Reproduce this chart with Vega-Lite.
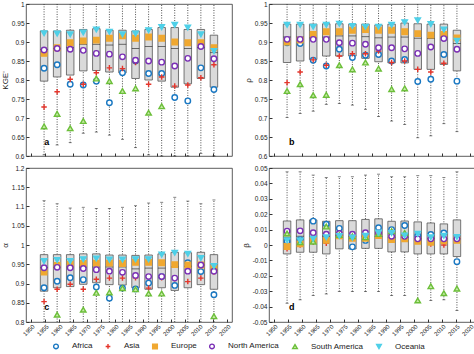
{
  "$schema": "https://vega.github.io/schema/vega-lite/v6.json",
  "padding": {"left": 0, "top": 0, "right": 4, "bottom": 2},
  "background": "white",
  "config": {
    "font": "Liberation Sans",
    "view": {"stroke": "#333", "strokeWidth": 0.8},
    "axis": {"labelFontSize": 6.5, "labelColor": "#222", "tickColor": "#333", "tickSize": -3, "tickCount": 30, "labelPadding": 5, "labelOverlap": false, "labelFlush": false, "labelBound": false, "domain": false, "grid": false, "titleFontSize": 8, "titleFontWeight": "normal", "titleColor": "#222", "titlePadding": 2},
    "legend": {"labelFontSize": 8, "labelColor": "#222", "symbolSize": 22, "symbolStrokeWidth": 1.4, "labelOffset": 12, "columnPadding": 9, "padding": 0, "offset": 4, "layout": {"bottom": {"anchor": "middle"}}}
  },
  "spacing": {"row": 4, "column": 8},
  "columns": 2,
  "datasets": {
    "boxes": [
      {"p":"a","box":1,"lo":0.603,"q1":0.797,"med":0.880,"q3":0.929,"hi":1.0},
      {"p":"a","box":2,"lo":0.629,"q1":0.808,"med":0.883,"q3":0.929,"hi":1.0},
      {"p":"a","box":3,"lo":0.635,"q1":0.813,"med":0.885,"q3":0.931,"hi":1.0},
      {"p":"a","box":4,"lo":0.660,"q1":0.824,"med":0.894,"q3":0.933,"hi":1.0},
      {"p":"a","box":5,"lo":0.663,"q1":0.825,"med":0.894,"q3":0.935,"hi":1.0},
      {"p":"a","box":6,"lo":0.655,"q1":0.821,"med":0.892,"q3":0.931,"hi":1.0},
      {"p":"a","box":7,"lo":0.644,"q1":0.819,"med":0.894,"q3":0.931,"hi":1.0},
      {"p":"a","box":8,"lo":0.622,"q1":0.804,"med":0.883,"q3":0.929,"hi":1.0},
      {"p":"a","box":9,"lo":0.603,"q1":0.800,"med":0.888,"q3":0.933,"hi":1.0},
      {"p":"a","box":10,"lo":0.600,"q1":0.797,"med":0.888,"q3":0.938,"hi":1.0},
      {"p":"a","box":11,"lo":0.600,"q1":0.781,"med":0.883,"q3":0.938,"hi":1.0},
      {"p":"a","box":12,"lo":0.600,"q1":0.790,"med":0.883,"q3":0.933,"hi":1.0},
      {"p":"a","box":13,"lo":0.607,"q1":0.804,"med":0.885,"q3":0.933,"hi":1.0},
      {"p":"a","box":14,"lo":0.600,"q1":0.781,"med":0.872,"q3":0.918,"hi":1.0},
      {"p":"b","box":1,"lo":0.701,"q1":0.846,"med":0.913,"q3":0.947,"hi":1.0},
      {"p":"b","box":2,"lo":0.712,"q1":0.850,"med":0.913,"q3":0.947,"hi":1.0},
      {"p":"b","box":3,"lo":0.718,"q1":0.854,"med":0.911,"q3":0.947,"hi":1.0},
      {"p":"b","box":4,"lo":0.736,"q1":0.863,"med":0.913,"q3":0.948,"hi":1.0},
      {"p":"b","box":5,"lo":0.738,"q1":0.863,"med":0.916,"q3":0.948,"hi":1.0},
      {"p":"b","box":6,"lo":0.734,"q1":0.863,"med":0.916,"q3":0.947,"hi":1.0},
      {"p":"b","box":7,"lo":0.723,"q1":0.857,"med":0.914,"q3":0.947,"hi":1.0},
      {"p":"b","box":8,"lo":0.704,"q1":0.848,"med":0.911,"q3":0.945,"hi":1.0},
      {"p":"b","box":9,"lo":0.692,"q1":0.845,"med":0.913,"q3":0.947,"hi":1.0},
      {"p":"b","box":10,"lo":0.683,"q1":0.845,"med":0.913,"q3":0.950,"hi":1.0},
      {"p":"b","box":11,"lo":0.648,"q1":0.828,"med":0.910,"q3":0.948,"hi":1.0},
      {"p":"b","box":12,"lo":0.653,"q1":0.828,"med":0.909,"q3":0.947,"hi":1.0},
      {"p":"b","box":13,"lo":0.685,"q1":0.841,"med":0.913,"q3":0.947,"hi":1.0},
      {"p":"b","box":14,"lo":0.664,"q1":0.824,"med":0.896,"q3":0.931,"hi":1.0},
      {"p":"c","box":1,"lo":0.8,"q1":0.880,"med":0.941,"q3":0.975,"hi":1.115},
      {"p":"c","box":2,"lo":0.8,"q1":0.889,"med":0.942,"q3":0.975,"hi":1.107},
      {"p":"c","box":3,"lo":0.8,"q1":0.892,"med":0.943,"q3":0.975,"hi":1.096},
      {"p":"c","box":4,"lo":0.8,"q1":0.898,"med":0.943,"q3":0.977,"hi":1.098},
      {"p":"c","box":5,"lo":0.8,"q1":0.902,"med":0.943,"q3":0.977,"hi":1.095},
      {"p":"c","box":6,"lo":0.8,"q1":0.897,"med":0.943,"q3":0.974,"hi":1.095},
      {"p":"c","box":7,"lo":0.8,"q1":0.896,"med":0.943,"q3":0.974,"hi":1.098},
      {"p":"c","box":8,"lo":0.8,"q1":0.889,"med":0.938,"q3":0.973,"hi":1.102},
      {"p":"c","box":9,"lo":0.8,"q1":0.885,"med":0.940,"q3":0.974,"hi":1.109},
      {"p":"c","box":10,"lo":0.8,"q1":0.889,"med":0.940,"q3":0.977,"hi":1.111},
      {"p":"c","box":11,"lo":0.8,"q1":0.882,"med":0.943,"q3":0.981,"hi":1.124},
      {"p":"c","box":12,"lo":0.8,"q1":0.889,"med":0.945,"q3":0.980,"hi":1.114},
      {"p":"c","box":13,"lo":0.8,"q1":0.897,"med":0.948,"q3":0.981,"hi":1.107},
      {"p":"c","box":14,"lo":0.8,"q1":0.885,"med":0.935,"q3":0.975,"hi":1.117},
      {"p":"d","box":1,"lo":-0.0378,"q1":-0.0058,"med":0.0050,"q3":0.0156,"hi":0.0475},
      {"p":"d","box":2,"lo":-0.0356,"q1":-0.0047,"med":0.0057,"q3":0.0163,"hi":0.0475},
      {"p":"d","box":3,"lo":-0.0328,"q1":-0.0047,"med":0.0057,"q3":0.0163,"hi":0.0454},
      {"p":"d","box":4,"lo":-0.0318,"q1":-0.0058,"med":0.0057,"q3":0.0154,"hi":0.0438},
      {"p":"d","box":5,"lo":-0.0302,"q1":-0.0025,"med":0.0060,"q3":0.0158,"hi":0.0443},
      {"p":"d","box":6,"lo":-0.0302,"q1":-0.0026,"med":0.0057,"q3":0.0158,"hi":0.0443},
      {"p":"d","box":7,"lo":-0.0302,"q1":-0.0022,"med":0.0057,"q3":0.0166,"hi":0.0454},
      {"p":"d","box":8,"lo":-0.0302,"q1":-0.0022,"med":0.0055,"q3":0.0170,"hi":0.0460},
      {"p":"d","box":9,"lo":-0.0328,"q1":-0.0045,"med":0.0050,"q3":0.0154,"hi":0.0443},
      {"p":"d","box":10,"lo":-0.0328,"q1":-0.0045,"med":0.0050,"q3":0.0156,"hi":0.0443},
      {"p":"d","box":11,"lo":-0.0360,"q1":-0.0058,"med":0.0040,"q3":0.0150,"hi":0.0450},
      {"p":"d","box":12,"lo":-0.0360,"q1":-0.0058,"med":0.0040,"q3":0.0143,"hi":0.0450},
      {"p":"d","box":13,"lo":-0.0356,"q1":-0.0058,"med":0.0040,"q3":0.0137,"hi":0.0438},
      {"p":"d","box":14,"lo":-0.0425,"q1":-0.0075,"med":0.0040,"q3":0.0163,"hi":0.0475}
    ],
    "pts": [
      {"p":"a","box":1,"Africa":0.831,"Asia":0.729,"Europe":0.870,"North America":0.879,"South America":0.678,"Oceania":0.923},
      {"p":"a","box":2,"Africa":0.840,"Asia":0.769,"Europe":0.885,"North America":0.883,"South America":0.711,"Oceania":0.922},
      {"p":"a","box":3,"Africa":0.789,"Asia":0.802,"Europe":0.898,"North America":0.881,"South America":0.673,"Oceania":0.920},
      {"p":"a","box":4,"Africa":0.787,"Asia":0.789,"Europe":0.903,"North America":0.878,"South America":0.692,"Oceania":0.925},
      {"p":"a","box":5,"Africa":0.797,"Asia":0.819,"Europe":0.905,"North America":0.870,"South America":0.804,"Oceania":0.933},
      {"p":"a","box":6,"Africa":0.740,"Asia":0.832,"Europe":0.910,"North America":0.868,"South America":0.797,"Oceania":0.927},
      {"p":"a","box":7,"Africa":0.819,"Asia":0.830,"Europe":0.916,"North America":0.861,"South America":0.771,"Oceania":0.920},
      {"p":"a","box":8,"Africa":0.850,"Asia":0.846,"Europe":0.910,"North America":0.852,"South America":0.778,"Oceania":0.922},
      {"p":"a","box":9,"Africa":0.817,"Asia":0.789,"Europe":0.913,"North America":0.850,"South America":0.714,"Oceania":0.931},
      {"p":"a","box":10,"Africa":0.817,"Asia":0.808,"Europe":0.910,"North America":0.847,"South America":0.731,"Oceania":0.939},
      {"p":"a","box":11,"Africa":0.754,"Asia":0.784,"Europe":0.900,"North America":0.837,"South America":null,"Oceania":0.945},
      {"p":"a","box":12,"Africa":0.745,"Asia":0.787,"Europe":0.898,"North America":0.857,"South America":null,"Oceania":0.938},
      {"p":"a","box":13,"Africa":0.832,"Asia":0.806,"Europe":0.898,"North America":0.888,"South America":null,"Oceania":0.920},
      {"p":"a","box":14,"Africa":0.775,"Asia":0.840,"Europe":0.885,"North America":0.856,"South America":null,"Oceania":0.876},
      {"p":"b","box":1,"Africa":0.898,"Asia":0.793,"Europe":0.900,"North America":0.907,"South America":0.771,"Oceania":0.945},
      {"p":"b","box":2,"Africa":0.896,"Asia":0.821,"Europe":0.905,"North America":0.907,"South America":0.789,"Oceania":0.945},
      {"p":"b","box":3,"Africa":0.852,"Asia":0.853,"Europe":0.920,"North America":0.907,"South America":0.760,"Oceania":0.940},
      {"p":"b","box":4,"Africa":0.837,"Asia":0.839,"Europe":0.927,"North America":0.907,"South America":0.761,"Oceania":0.945},
      {"p":"b","box":5,"Africa":0.881,"Asia":0.863,"Europe":0.927,"North America":0.898,"South America":0.839,"Oceania":0.948},
      {"p":"b","box":6,"Africa":0.859,"Asia":0.869,"Europe":0.931,"North America":0.897,"South America":0.828,"Oceania":0.942},
      {"p":"b","box":7,"Africa":0.865,"Asia":0.869,"Europe":0.933,"North America":0.894,"South America":0.846,"Oceania":0.940},
      {"p":"b","box":8,"Africa":0.867,"Asia":0.876,"Europe":0.931,"North America":0.885,"South America":0.830,"Oceania":0.940},
      {"p":"b","box":9,"Africa":0.850,"Asia":0.846,"Europe":0.931,"North America":0.885,"South America":0.776,"Oceania":0.945},
      {"p":"b","box":10,"Africa":0.854,"Asia":0.850,"Europe":0.927,"North America":0.882,"South America":0.778,"Oceania":0.952},
      {"p":"b","box":11,"Africa":0.796,"Asia":0.828,"Europe":0.922,"North America":0.870,"South America":null,"Oceania":0.957},
      {"p":"b","box":12,"Africa":0.802,"Asia":0.821,"Europe":0.918,"North America":0.887,"South America":null,"Oceania":0.947},
      {"p":"b","box":13,"Africa":0.867,"Asia":0.844,"Europe":0.920,"North America":0.909,"South America":null,"Oceania":0.933},
      {"p":"b","box":14,"Africa":0.797,"Asia":0.880,"Europe":0.911,"North America":0.881,"South America":null,"Oceania":0.903},
      {"p":"c","box":1,"Africa":0.889,"Asia":0.853,"Europe":0.930,"North America":0.941,"South America":null,"Oceania":0.958},
      {"p":"c","box":2,"Africa":0.906,"Asia":0.885,"Europe":0.947,"North America":0.942,"South America":0.819,"Oceania":0.961},
      {"p":"c","box":3,"Africa":0.915,"Asia":0.898,"Europe":0.950,"North America":0.941,"South America":null,"Oceania":0.958},
      {"p":"c","box":4,"Africa":0.910,"Asia":0.885,"Europe":0.952,"North America":0.939,"South America":0.832,"Oceania":0.963},
      {"p":"c","box":5,"Africa":0.891,"Asia":0.911,"Europe":0.953,"North America":0.936,"South America":0.876,"Oceania":0.965},
      {"p":"c","box":6,"Africa":0.862,"Asia":0.914,"Europe":0.953,"North America":0.932,"South America":0.877,"Oceania":0.962},
      {"p":"c","box":7,"Africa":0.888,"Asia":0.914,"Europe":0.952,"North America":0.929,"South America":0.888,"Oceania":0.962},
      {"p":"c","box":8,"Africa":0.886,"Asia":0.915,"Europe":0.955,"North America":0.921,"South America":0.885,"Oceania":0.963},
      {"p":"c","box":9,"Africa":0.901,"Asia":0.888,"Europe":0.955,"North America":0.918,"South America":0.874,"Oceania":0.963},
      {"p":"c","box":10,"Africa":0.918,"Asia":0.915,"Europe":0.954,"North America":0.918,"South America":0.874,"Oceania":0.975},
      {"p":"c","box":11,"Africa":0.895,"Asia":0.912,"Europe":0.949,"North America":0.914,"South America":null,"Oceania":0.980},
      {"p":"c","box":12,"Africa":0.954,"Asia":0.905,"Europe":0.948,"North America":0.932,"South America":null,"Oceania":0.977},
      {"p":"c","box":13,"Africa":0.931,"Asia":0.914,"Europe":0.948,"North America":0.948,"South America":null,"Oceania":0.966},
      {"p":"c","box":14,"Africa":0.871,"Asia":0.930,"Europe":0.940,"North America":0.932,"South America":0.815,"Oceania":0.945},
      {"p":"d","box":1,"Africa":0.0025,"Asia":-0.0025,"Europe":-0.0010,"North America":0.0090,"South America":0.0075,"Oceania":0.0030},
      {"p":"d","box":2,"Africa":0.0035,"Asia":0.0000,"Europe":0.0007,"North America":0.0092,"South America":0.0018,"Oceania":0.0028},
      {"p":"d","box":3,"Africa":0.0155,"Asia":0.0018,"Europe":0.0030,"North America":0.0080,"South America":0.0022,"Oceania":0.0040},
      {"p":"d","box":4,"Africa":0.0135,"Asia":0.0011,"Europe":0.0030,"North America":0.0070,"South America":0.0120,"Oceania":0.0050},
      {"p":"d","box":5,"Africa":0.0108,"Asia":0.0072,"Europe":0.0060,"North America":0.0075,"South America":0.0065,"Oceania":0.0058},
      {"p":"d","box":6,"Africa":-0.0012,"Asia":0.0050,"Europe":0.0044,"North America":0.0070,"South America":0.0057,"Oceania":0.0048},
      {"p":"d","box":7,"Africa":0.0030,"Asia":0.0045,"Europe":0.0044,"North America":0.0080,"South America":0.0050,"Oceania":0.0060},
      {"p":"d","box":8,"Africa":0.0112,"Asia":0.0060,"Europe":0.0062,"North America":0.0078,"South America":0.0072,"Oceania":0.0080},
      {"p":"d","box":9,"Africa":0.0100,"Asia":0.0040,"Europe":0.0035,"North America":0.0057,"South America":0.0090,"Oceania":0.0078},
      {"p":"d","box":10,"Africa":0.0127,"Asia":0.0050,"Europe":0.0040,"North America":0.0057,"South America":0.0078,"Oceania":0.0062},
      {"p":"d","box":11,"Africa":0.0060,"Asia":0.0040,"Europe":0.0024,"North America":0.0040,"South America":-0.0360,"Oceania":0.0072},
      {"p":"d","box":12,"Africa":0.0068,"Asia":0.0007,"Europe":0.0018,"North America":0.0040,"South America":-0.0268,"Oceania":0.0050},
      {"p":"d","box":13,"Africa":0.0078,"Asia":0.0000,"Europe":0.0028,"North America":0.0040,"South America":-0.0313,"Oceania":0.0060},
      {"p":"d","box":14,"Africa":-0.0108,"Asia":0.0030,"Europe":0.0030,"North America":0.0040,"South America":-0.0283,"Oceania":0.0052}
    ],
    "lab": [
      {"p":"a","x":1.2,"y":0.637,"t":"a"},
      {"p":"b","x":1.35,"y":0.637,"t":"b"},
      {"p":"c","x":1.2,"y":0.838,"t":"c"},
      {"p":"d","x":1.35,"y":-0.0405,"t":"d"}
    ]
  },
  "concat": [
    {
      "width": 206, "height": 152,
      "layer": [
        {"data": {"name": "boxes"}, "transform": [{"filter": "datum.p === 'a'"}],
         "mark": {"type": "rule", "strokeDash": [1, 1.5], "color": "#222", "strokeWidth": 0.8},
         "encoding": {
           "x": {"field": "box", "type": "quantitative", "scale": {"domain": [0, 15], "nice": false, "zero": false},
                 "axis": {"values": [0, 1.0714286, 2.1428571, 3.2142857, 4.2857143, 5.3571429, 6.4285714, 7.5, 8.5714286, 9.6428571, 10.7142857, 11.7857143, 12.8571429, 13.9285714, 15], "tickCount": 30, "labels": false, "title": null, "labelOverlap": false}},
           "y": {"field": "lo", "type": "quantitative", "scale": {"domain": [0.6, 1], "nice": false, "zero": false},
                 "axis": {"values": [0.6, 0.65, 0.7, 0.75, 0.8, 0.85, 0.9, 0.95, 1], "tickCount": 30, "labelExpr": "replace(format(datum.value, '~g'), '−', '-')", "labelOverlap": false, "title": "KGE'"}},
           "y2": {"field": "hi"}}},
        {"data": {"name": "boxes"}, "transform": [{"filter": "datum.p === 'a'"}],
         "mark": {"type": "bar", "orient": "vertical", "size": 7.5, "fill": "#dadada", "stroke": "#555", "strokeWidth": 0.8},
         "encoding": {"x": {"field": "box", "type": "quantitative"}, "y": {"field": "q1", "type": "quantitative", "scale": {"domain": [0.6, 1], "nice": false, "zero": false}}, "y2": {"field": "q3"}}},
        {"data": {"name": "boxes"}, "transform": [{"filter": "datum.p === 'a'"}],
         "mark": {"type": "tick", "orient": "horizontal", "size": 7.5, "thickness": 0.9, "color": "#222", "strokeDash": [2, 1]},
         "encoding": {"x": {"field": "box", "type": "quantitative"}, "y": {"field": "med", "type": "quantitative", "scale": {"domain": [0.6, 1], "nice": false, "zero": false}}}},
        {"data": {"name": "boxes"}, "transform": [{"filter": "datum.p === 'a'"}],
         "mark": {"type": "tick", "orient": "horizontal", "size": 3, "thickness": 0.8, "color": "#222"},
         "encoding": {"x": {"field": "box", "type": "quantitative"}, "y": {"field": "lo", "type": "quantitative", "scale": {"domain": [0.6, 1], "nice": false, "zero": false}}}},
        {"data": {"name": "pts"}, "transform": [{"filter": "datum.p === 'a'"}, {"fold": ["Africa", "Asia", "Europe", "North America", "South America", "Oceania"], "as": ["c", "v"]}, {"filter": "datum.v != null"}],
         "mark": {"type": "point", "filled": false, "size": 30, "strokeWidth": 1.4, "opacity": 1},
         "encoding": {
           "x": {"field": "box", "type": "quantitative"},
           "y": {"field": "v", "type": "quantitative", "scale": {"domain": [0.6, 1], "nice": false, "zero": false}},
           "stroke": {"field": "c", "type": "nominal", "scale": {"domain": ["Africa", "Asia", "Europe", "North America", "South America", "Oceania"], "range": ["#1a78c2", "#e4352b", "#f0a830", "#7a2fb5", "#6cbf3a", "#4fd0e8"]}, "legend": {"title": null, "orient": "bottom", "direction": "horizontal"}},
           "fill": {"field": "c", "type": "nominal", "scale": {"domain": ["Africa", "Asia", "Europe", "North America", "South America", "Oceania"], "range": ["#ffffff", "transparent", "#f0a830", "#ffffff", "#c6eaa6", "#4fd0e8"]}, "legend": {"title": null, "orient": "bottom", "direction": "horizontal"}},
           "shape": {"field": "c", "type": "nominal", "scale": {"domain": ["Africa", "Asia", "Europe", "North America", "South America", "Oceania"], "range": ["circle", "M-1,0L1,0M0,-1L0,1", "square", "circle", "triangle-up", "triangle-down"]}, "legend": {"title": null, "orient": "bottom", "direction": "horizontal"}}}},
        {"data": {"name": "lab"}, "transform": [{"filter": "datum.p === 'a'"}],
         "mark": {"type": "text", "fontSize": 9, "fontWeight": "bold", "color": "#000"},
         "encoding": {"x": {"field": "x", "type": "quantitative"}, "y": {"field": "y", "type": "quantitative", "scale": {"domain": [0.6, 1], "nice": false, "zero": false}}, "text": {"field": "t"}}}
      ]
    },
    {
      "width": 206, "height": 152,
      "layer": [
        {"data": {"name": "boxes"}, "transform": [{"filter": "datum.p === 'b'"}],
         "mark": {"type": "rule", "strokeDash": [1, 1.5], "color": "#222", "strokeWidth": 0.8},
         "encoding": {
           "x": {"field": "box", "type": "quantitative", "scale": {"domain": [0, 15], "nice": false, "zero": false},
                 "axis": {"values": [0, 1.0714286, 2.1428571, 3.2142857, 4.2857143, 5.3571429, 6.4285714, 7.5, 8.5714286, 9.6428571, 10.7142857, 11.7857143, 12.8571429, 13.9285714, 15], "tickCount": 30, "labels": false, "title": null, "labelOverlap": false}},
           "y": {"field": "lo", "type": "quantitative", "scale": {"domain": [0.6, 1], "nice": false, "zero": false},
                 "axis": {"values": [0.6, 0.65, 0.7, 0.75, 0.8, 0.85, 0.9, 0.95, 1], "tickCount": 30, "labelExpr": "replace(format(datum.value, '~g'), '−', '-')", "labelOverlap": false, "title": "ρ"}},
           "y2": {"field": "hi"}}},
        {"data": {"name": "boxes"}, "transform": [{"filter": "datum.p === 'b'"}],
         "mark": {"type": "bar", "orient": "vertical", "size": 7.5, "fill": "#dadada", "stroke": "#555", "strokeWidth": 0.8},
         "encoding": {"x": {"field": "box", "type": "quantitative"}, "y": {"field": "q1", "type": "quantitative", "scale": {"domain": [0.6, 1], "nice": false, "zero": false}}, "y2": {"field": "q3"}}},
        {"data": {"name": "boxes"}, "transform": [{"filter": "datum.p === 'b'"}],
         "mark": {"type": "tick", "orient": "horizontal", "size": 7.5, "thickness": 0.9, "color": "#222", "strokeDash": [2, 1]},
         "encoding": {"x": {"field": "box", "type": "quantitative"}, "y": {"field": "med", "type": "quantitative", "scale": {"domain": [0.6, 1], "nice": false, "zero": false}}}},
        {"data": {"name": "boxes"}, "transform": [{"filter": "datum.p === 'b'"}],
         "mark": {"type": "tick", "orient": "horizontal", "size": 3, "thickness": 0.8, "color": "#222"},
         "encoding": {"x": {"field": "box", "type": "quantitative"}, "y": {"field": "lo", "type": "quantitative", "scale": {"domain": [0.6, 1], "nice": false, "zero": false}}}},
        {"data": {"name": "pts"}, "transform": [{"filter": "datum.p === 'b'"}, {"fold": ["Africa", "Asia", "Europe", "North America", "South America", "Oceania"], "as": ["c", "v"]}, {"filter": "datum.v != null"}],
         "mark": {"type": "point", "filled": false, "size": 30, "strokeWidth": 1.4, "opacity": 1},
         "encoding": {
           "x": {"field": "box", "type": "quantitative"},
           "y": {"field": "v", "type": "quantitative", "scale": {"domain": [0.6, 1], "nice": false, "zero": false}},
           "stroke": {"field": "c", "type": "nominal", "legend": {"title": null, "orient": "bottom", "direction": "horizontal"}},
           "fill": {"field": "c", "type": "nominal", "legend": {"title": null, "orient": "bottom", "direction": "horizontal"}},
           "shape": {"field": "c", "type": "nominal", "legend": {"title": null, "orient": "bottom", "direction": "horizontal"}}}},
        {"data": {"name": "lab"}, "transform": [{"filter": "datum.p === 'b'"}],
         "mark": {"type": "text", "fontSize": 9, "fontWeight": "bold", "color": "#000"},
         "encoding": {"x": {"field": "x", "type": "quantitative"}, "y": {"field": "y", "type": "quantitative", "scale": {"domain": [0.6, 1], "nice": false, "zero": false}}, "text": {"field": "t"}}}
      ]
    },
    {
      "width": 206, "height": 154,
      "layer": [
        {"data": {"name": "boxes"}, "transform": [{"filter": "datum.p === 'c'"}],
         "mark": {"type": "rule", "strokeDash": [1, 1.5], "color": "#222", "strokeWidth": 0.8},
         "encoding": {
           "x": {"field": "box", "type": "quantitative", "scale": {"domain": [0, 15], "nice": false, "zero": false},
                 "axis": {"values": [0, 1.0714286, 2.1428571, 3.2142857, 4.2857143, 5.3571429, 6.4285714, 7.5, 8.5714286, 9.6428571, 10.7142857, 11.7857143, 12.8571429, 13.9285714, 15], "tickCount": 30, "labelExpr": "'' + (1950 + 5 * round(datum.value * 14 / 15))", "labelAngle": -45, "labelFontSize": 6, "labelAlign": "right", "labelBaseline": "top", "labelPadding": 4, "labelOverlap": false, "title": null}},
           "y": {"field": "lo", "type": "quantitative", "scale": {"domain": [0.8, 1.2], "nice": false, "zero": false},
                 "axis": {"values": [0.8, 0.85, 0.9, 0.95, 1, 1.05, 1.1, 1.15, 1.2], "tickCount": 30, "labelExpr": "replace(format(datum.value, '~g'), '−', '-')", "labelOverlap": false, "title": "α"}},
           "y2": {"field": "hi"}}},
        {"data": {"name": "boxes"}, "transform": [{"filter": "datum.p === 'c'"}],
         "mark": {"type": "bar", "orient": "vertical", "size": 7.5, "fill": "#dadada", "stroke": "#555", "strokeWidth": 0.8},
         "encoding": {"x": {"field": "box", "type": "quantitative"}, "y": {"field": "q1", "type": "quantitative", "scale": {"domain": [0.8, 1.2], "nice": false, "zero": false}}, "y2": {"field": "q3"}}},
        {"data": {"name": "boxes"}, "transform": [{"filter": "datum.p === 'c'"}],
         "mark": {"type": "tick", "orient": "horizontal", "size": 7.5, "thickness": 0.9, "color": "#222", "strokeDash": [2, 1]},
         "encoding": {"x": {"field": "box", "type": "quantitative"}, "y": {"field": "med", "type": "quantitative", "scale": {"domain": [0.8, 1.2], "nice": false, "zero": false}}}},
        {"data": {"name": "boxes"}, "transform": [{"filter": "datum.p === 'c'"}],
         "mark": {"type": "tick", "orient": "horizontal", "size": 3, "thickness": 0.8, "color": "#222"},
         "encoding": {"x": {"field": "box", "type": "quantitative"}, "y": {"field": "hi", "type": "quantitative", "scale": {"domain": [0.8, 1.2], "nice": false, "zero": false}}}},
        {"data": {"name": "pts"}, "transform": [{"filter": "datum.p === 'c'"}, {"fold": ["Africa", "Asia", "Europe", "North America", "South America", "Oceania"], "as": ["c", "v"]}, {"filter": "datum.v != null"}],
         "mark": {"type": "point", "filled": false, "size": 30, "strokeWidth": 1.4, "opacity": 1},
         "encoding": {
           "x": {"field": "box", "type": "quantitative"},
           "y": {"field": "v", "type": "quantitative", "scale": {"domain": [0.8, 1.2], "nice": false, "zero": false}},
           "stroke": {"field": "c", "type": "nominal", "legend": {"title": null, "orient": "bottom", "direction": "horizontal"}},
           "fill": {"field": "c", "type": "nominal", "legend": {"title": null, "orient": "bottom", "direction": "horizontal"}},
           "shape": {"field": "c", "type": "nominal", "legend": {"title": null, "orient": "bottom", "direction": "horizontal"}}}},
        {"data": {"name": "lab"}, "transform": [{"filter": "datum.p === 'c'"}],
         "mark": {"type": "text", "fontSize": 9, "fontWeight": "bold", "color": "#000"},
         "encoding": {"x": {"field": "x", "type": "quantitative"}, "y": {"field": "y", "type": "quantitative", "scale": {"domain": [0.8, 1.2], "nice": false, "zero": false}}, "text": {"field": "t"}}}
      ]
    },
    {
      "width": 206, "height": 154,
      "layer": [
        {"data": {"name": "boxes"}, "transform": [{"filter": "datum.p === 'd'"}],
         "mark": {"type": "rule", "strokeDash": [1, 1.5], "color": "#222", "strokeWidth": 0.8},
         "encoding": {
           "x": {"field": "box", "type": "quantitative", "scale": {"domain": [0, 15], "nice": false, "zero": false},
                 "axis": {"values": [0, 1.0714286, 2.1428571, 3.2142857, 4.2857143, 5.3571429, 6.4285714, 7.5, 8.5714286, 9.6428571, 10.7142857, 11.7857143, 12.8571429, 13.9285714, 15], "tickCount": 30, "labelExpr": "'' + (1950 + 5 * round(datum.value * 14 / 15))", "labelAngle": -45, "labelFontSize": 6, "labelAlign": "right", "labelBaseline": "top", "labelPadding": 4, "labelOverlap": false, "title": null}},
           "y": {"field": "lo", "type": "quantitative", "scale": {"domain": [-0.05, 0.05], "nice": false, "zero": false},
                 "axis": {"values": [-0.05, -0.04, -0.03, -0.02, -0.01, 0, 0.01, 0.02, 0.03, 0.04, 0.05], "tickCount": 30, "labelExpr": "replace(format(datum.value, '~g'), '−', '-')", "labelOverlap": false, "title": "β"}},
           "y2": {"field": "hi"}}},
        {"data": {"name": "boxes"}, "transform": [{"filter": "datum.p === 'd'"}],
         "mark": {"type": "bar", "orient": "vertical", "size": 7.5, "fill": "#dadada", "stroke": "#555", "strokeWidth": 0.8},
         "encoding": {"x": {"field": "box", "type": "quantitative"}, "y": {"field": "q1", "type": "quantitative", "scale": {"domain": [-0.05, 0.05], "nice": false, "zero": false}}, "y2": {"field": "q3"}}},
        {"data": {"name": "boxes"}, "transform": [{"filter": "datum.p === 'd'"}],
         "mark": {"type": "tick", "orient": "horizontal", "size": 7.5, "thickness": 0.9, "color": "#222", "strokeDash": [2, 1]},
         "encoding": {"x": {"field": "box", "type": "quantitative"}, "y": {"field": "med", "type": "quantitative", "scale": {"domain": [-0.05, 0.05], "nice": false, "zero": false}}}},
        {"data": {"name": "boxes"}, "transform": [{"filter": "datum.p === 'd'"}],
         "mark": {"type": "tick", "orient": "horizontal", "size": 3, "thickness": 0.8, "color": "#222"},
         "encoding": {"x": {"field": "box", "type": "quantitative"}, "y": {"field": "lo", "type": "quantitative", "scale": {"domain": [-0.05, 0.05], "nice": false, "zero": false}}}},
        {"data": {"name": "boxes"}, "transform": [{"filter": "datum.p === 'd'"}],
         "mark": {"type": "tick", "orient": "horizontal", "size": 3, "thickness": 0.8, "color": "#222"},
         "encoding": {"x": {"field": "box", "type": "quantitative"}, "y": {"field": "hi", "type": "quantitative", "scale": {"domain": [-0.05, 0.05], "nice": false, "zero": false}}}},
        {"data": {"name": "pts"}, "transform": [{"filter": "datum.p === 'd'"}, {"fold": ["Africa", "Asia", "Europe", "North America", "South America", "Oceania"], "as": ["c", "v"]}, {"filter": "datum.v != null"}],
         "mark": {"type": "point", "filled": false, "size": 30, "strokeWidth": 1.4, "opacity": 1},
         "encoding": {
           "x": {"field": "box", "type": "quantitative"},
           "y": {"field": "v", "type": "quantitative", "scale": {"domain": [-0.05, 0.05], "nice": false, "zero": false}},
           "stroke": {"field": "c", "type": "nominal", "legend": {"title": null, "orient": "bottom", "direction": "horizontal"}},
           "fill": {"field": "c", "type": "nominal", "legend": {"title": null, "orient": "bottom", "direction": "horizontal"}},
           "shape": {"field": "c", "type": "nominal", "legend": {"title": null, "orient": "bottom", "direction": "horizontal"}}}},
        {"data": {"name": "lab"}, "transform": [{"filter": "datum.p === 'd'"}],
         "mark": {"type": "text", "fontSize": 9, "fontWeight": "bold", "color": "#000"},
         "encoding": {"x": {"field": "x", "type": "quantitative"}, "y": {"field": "y", "type": "quantitative", "scale": {"domain": [-0.05, 0.05], "nice": false, "zero": false}}, "text": {"field": "t"}}}
      ]
    }
  ]
}
